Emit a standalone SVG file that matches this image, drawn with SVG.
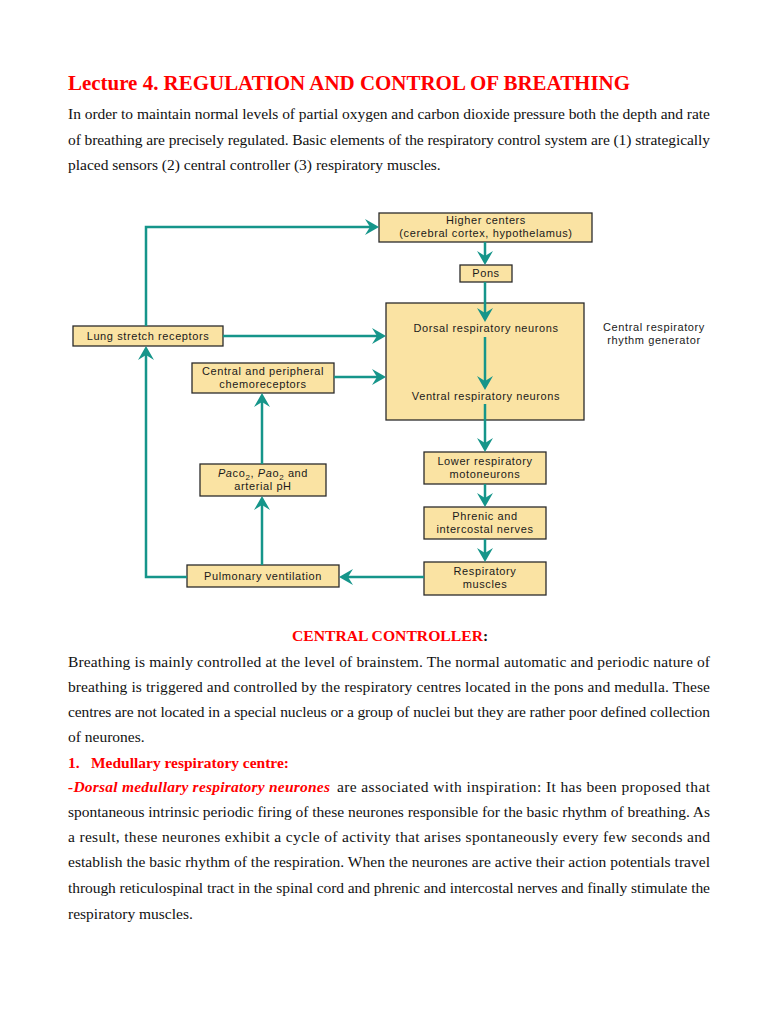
<svg xmlns="http://www.w3.org/2000/svg" width="768" height="1024" viewBox="0 0 768 1024">
<style>
  .bg { fill: #ffffff; }
  .title { font-family: "Liberation Serif", "Times New Roman", serif; font-weight: bold; fill: #ff0000; }
  .body { font-family: "Liberation Serif", "Times New Roman", serif; font-size: 15.5px; fill: #111111; }
  .red { fill: #ff0000; font-weight: bold; }
  .box { fill: #fae3a3; stroke: #2b2b2b; stroke-width: 1.3; }
  .lbl { font-family: "Liberation Sans", Arial, sans-serif; font-size: 11px; letter-spacing: 0.6px; fill: #1a1a1a; text-anchor: middle; }
  .conn { fill: none; stroke: #15958a; stroke-width: 2.5; marker-end: url(#arr); }
</style>
<defs>
  <marker id="arr" viewBox="0 0 14 16" refX="10" refY="8" markerWidth="14" markerHeight="16" markerUnits="userSpaceOnUse" orient="auto">
    <path d="M0,0 L14,8 L0,16 L5,8 Z" fill="#15958a"/>
  </marker>
</defs>
<rect class="bg" x="0" y="0" width="768" height="1024"/>

<!-- Header text -->
<text class="title" x="68" y="90" font-size="20" textLength="562" lengthAdjust="spacingAndGlyphs">Lecture 4. REGULATION AND CONTROL OF BREATHING</text>
<text class="body" x="68" y="119" textLength="642" lengthAdjust="spacing">In order to maintain normal levels of partial oxygen and carbon dioxide pressure both the depth and rate</text>
<text class="body" x="68" y="145" textLength="642" lengthAdjust="spacing">of breathing are precisely regulated. Basic elements of the respiratory control system are (1) strategically</text>
<text class="body" x="68" y="170">placed sensors (2) central controller (3) respiratory muscles.</text>

<!-- Nodes -->
<g id="higher-centers">
  <rect class="box" x="379" y="213" width="213" height="29"/>
  <text class="lbl" x="486" y="224">Higher centers</text>
  <text class="lbl" x="486" y="237">(cerebral cortex, hypothelamus)</text>
</g>
<g id="pons">
  <rect class="box" x="460" y="265" width="52" height="17"/>
  <text class="lbl" x="486" y="277">Pons</text>
</g>
<g id="respiratory-neurons">
  <rect class="box" x="386" y="303" width="198" height="117"/>
  <text class="lbl" x="486" y="332">Dorsal respiratory neurons</text>
  <text class="lbl" x="486" y="400">Ventral respiratory neurons</text>
</g>
<g id="rhythm-generator-label">
  <text class="lbl" x="654" y="331">Central respiratory</text>
  <text class="lbl" x="654" y="344">rhythm generator</text>
</g>
<g id="lung-stretch-receptors">
  <rect class="box" x="73" y="326" width="150" height="20"/>
  <text class="lbl" x="148" y="340">Lung stretch receptors</text>
</g>
<g id="chemoreceptors">
  <rect class="box" x="192" y="363" width="142" height="30"/>
  <text class="lbl" x="263" y="375">Central and peripheral</text>
  <text class="lbl" x="263" y="388">chemoreceptors</text>
</g>
<g id="blood-gases">
  <rect class="box" x="200" y="464" width="126" height="32"/>
  <text class="lbl" x="263" y="477"><tspan font-style="italic">Pa</tspan>co<tspan font-size="8" dy="3">2</tspan><tspan dy="-3">, </tspan><tspan font-style="italic">Pa</tspan>o<tspan font-size="8" dy="3">2</tspan><tspan dy="-3"> and</tspan></text>
  <text class="lbl" x="263" y="490">arterial pH</text>
</g>
<g id="pulmonary-ventilation">
  <rect class="box" x="187" y="565" width="152" height="22"/>
  <text class="lbl" x="263" y="580">Pulmonary ventilation</text>
</g>
<g id="lower-motoneurons">
  <rect class="box" x="424" y="452" width="122" height="32"/>
  <text class="lbl" x="485" y="465">Lower respiratory</text>
  <text class="lbl" x="485" y="478">motoneurons</text>
</g>
<g id="phrenic-intercostal">
  <rect class="box" x="424" y="507" width="122" height="32"/>
  <text class="lbl" x="485" y="520">Phrenic and</text>
  <text class="lbl" x="485" y="533">intercostal nerves</text>
</g>
<g id="respiratory-muscles">
  <rect class="box" x="424" y="562" width="122" height="33"/>
  <text class="lbl" x="485" y="575">Respiratory</text>
  <text class="lbl" x="485" y="588">muscles</text>
</g>

<!-- Connectors (drawn over the boxes, as in the reference) -->
<g id="connectors">
  <path class="conn" d="M485,242 V261"/>
  <path class="conn" d="M485,282 V318"/>
  <path class="conn" d="M485,337 V386"/>
  <path class="conn" d="M485,404 V448"/>
  <path class="conn" d="M485,484 V503"/>
  <path class="conn" d="M485,539 V558"/>
  <path class="conn" d="M424,577 H343"/>
  <path class="conn" d="M262,565 V500"/>
  <path class="conn" d="M262,464 V397"/>
  <path class="conn" d="M334,377 H382"/>
  <path class="conn" d="M223,336 H382"/>
  <path class="conn" d="M187,577 H146 V350"/>
  <path class="conn" d="M146,326 V227 H375"/>
</g>

<!-- Lower text -->
<text class="body" x="292" y="641" font-weight="bold"><tspan fill="#ff0000" textLength="191" lengthAdjust="spacingAndGlyphs">CENTRAL CONTROLLER</tspan>:</text>
<text class="body" x="68" y="667" textLength="642" lengthAdjust="spacing">Breathing is mainly controlled at the level of brainstem. The normal automatic and periodic nature of</text>
<text class="body" x="68" y="692" textLength="642" lengthAdjust="spacing">breathing is triggered and controlled by the respiratory centres located in the pons and medulla. These</text>
<text class="body" x="68" y="717" textLength="642" lengthAdjust="spacing">centres are not located in a special nucleus or a group of nuclei but they are rather poor defined collection</text>
<text class="body" x="68" y="742">of neurones.</text>
<text class="body red" x="68" y="768">1.</text>
<text class="body red" x="91" y="768" textLength="198" lengthAdjust="spacingAndGlyphs">Medullary respiratory centre:</text>
<text class="body red" x="68" y="792" font-style="italic" textLength="262" lengthAdjust="spacing">-Dorsal medullary respiratory neurones</text>
<text class="body" x="337" y="792" textLength="373" lengthAdjust="spacing">are associated with inspiration: It has been proposed that</text>
<text class="body" x="68" y="817" textLength="642" lengthAdjust="spacing">spontaneous intrinsic periodic firing of these neurones responsible for the basic rhythm of breathing. As</text>
<text class="body" x="68" y="842" textLength="642" lengthAdjust="spacing">a result, these neurones exhibit a cycle of activity that arises spontaneously every few seconds and</text>
<text class="body" x="68" y="867" textLength="642" lengthAdjust="spacing">establish the basic rhythm of the respiration. When the neurones are active their action potentials travel</text>
<text class="body" x="68" y="893" textLength="642" lengthAdjust="spacing">through reticulospinal tract in the spinal cord and phrenic and intercostal nerves and finally stimulate the</text>
<text class="body" x="68" y="919">respiratory muscles.</text>
</svg>
